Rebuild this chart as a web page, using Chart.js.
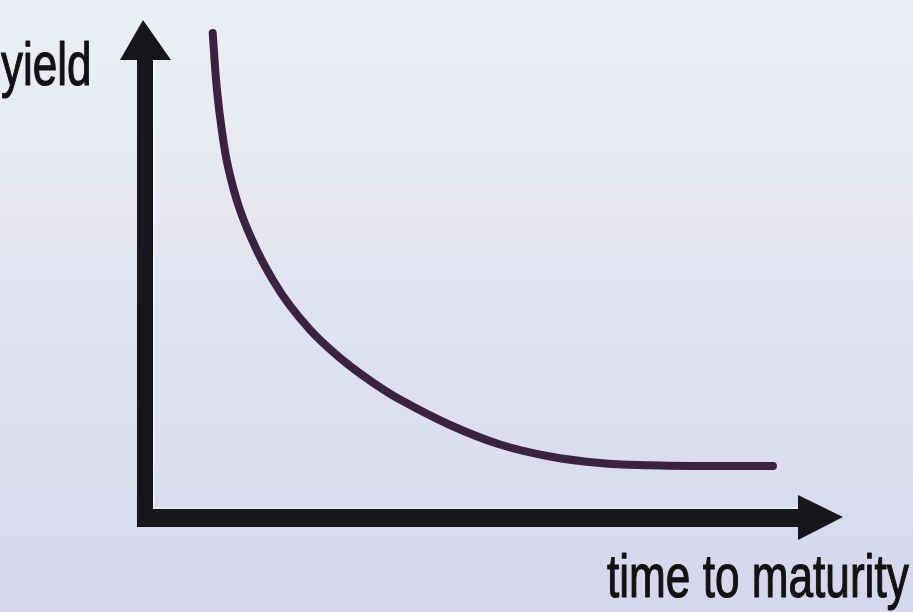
<!DOCTYPE html>
<html>
<head>
<meta charset="utf-8">
<script src="https://cdn.jsdelivr.net/npm/chart.js@4/dist/chart.umd.min.js"></script>
<style>
html,body{margin:0;padding:0;width:913px;height:612px;overflow:hidden;background:linear-gradient(180deg,#eceef5 0%,#e3e4f1 45%,#d6d6ec 100%);}
#wrap{position:absolute;left:0;top:0;width:913px;height:612px;}
</style>
</head>
<body>
<div id="wrap"><canvas id="c" width="913" height="612"></canvas></div>
<script>
// Data (arbitrary units: x 0..10, y 0..10)
const maturity = [0.967, 1.024, 1.096, 1.19, 1.357, 1.596, 1.833, 2.071, 2.357, 2.643, 2.929, 3.257, 3.643, 4.357, 5.071, 5.786, 6.50, 7.214, 7.929, 8.971];
const yieldVals = [9.739, 8.655, 7.799, 7.028, 6.185, 5.382, 4.765, 4.263, 3.781, 3.388, 3.052, 2.719, 2.378, 1.867, 1.476, 1.235, 1.104, 1.058, 1.044, 1.044];
const xTitle = 'time to maturity';
const yTitle = 'yield';

const points = maturity.map((x, i) => ({x: x, y: yieldVals[i]}));

const axesPlugin = {
  id: 'arrowAxes',
  beforeDatasetsDraw(chart) {
    const ctx = chart.ctx;
    const xs = chart.scales.x, ys = chart.scales.y;
    const ox = xs.getPixelForValue(0), oy = ys.getPixelForValue(0);
    const topY = ys.getPixelForValue(10), rightX = xs.getPixelForValue(10);
    ctx.save();
    ctx.fillStyle = '#15171b';
    // y shaft
    ctx.fillRect(ox - 8, topY + 38, 16, oy - topY - 38 + 9);
    // x shaft
    ctx.fillRect(ox - 8, oy - 9, rightX - 45 - (ox - 8), 18);
    // y arrowhead
    ctx.beginPath();
    ctx.moveTo(ox - 2, topY);
    ctx.lineTo(ox + 26, topY + 40);
    ctx.lineTo(ox - 25, topY + 40);
    ctx.closePath();
    ctx.fill();
    // x arrowhead
    ctx.beginPath();
    ctx.moveTo(rightX - 2, oy - 1);
    ctx.lineTo(rightX - 47, oy - 23);
    ctx.lineTo(rightX - 47, oy + 22);
    ctx.closePath();
    ctx.fill();
    // subtle highlight edges
    ctx.strokeStyle = 'rgba(255,255,255,0.55)';
    ctx.lineWidth = 1.5;
    ctx.beginPath();
    ctx.moveTo(ox + 9, topY + 40);
    ctx.lineTo(ox + 9, oy - 10);
    ctx.lineTo(rightX - 47, oy - 10);
    ctx.stroke();
    ctx.restore();
  },
  afterDraw(chart) {
    const ctx = chart.ctx;
    ctx.save();
    ctx.fillStyle = '#121214';
    ctx.strokeStyle = '#121214';
    ctx.lineWidth = 1.2;
    ctx.lineJoin = 'round';
    ctx.font = '62px "Liberation Sans", Arial, sans-serif';
    ctx.textBaseline = 'alphabetic';
    ctx.textAlign = 'left';
    ctx.save();
    ctx.translate(1, 85);
    ctx.scale(0.71, 1);
    ctx.fillText(yTitle, 0, 0);
    ctx.strokeText(yTitle, 0, 0);
    ctx.restore();
    ctx.save();
    ctx.translate(607, 597);
    ctx.scale(0.712, 1);
    ctx.fillText(xTitle, 0, 0);
    ctx.strokeText(xTitle, 0, 0);
    ctx.restore();
    ctx.restore();
  }
};

new Chart(document.getElementById('c'), {
  type: 'line',
  data: {
    datasets: [{
      data: points,
      borderColor: '#3a2240',
      borderWidth: 8,
      borderCapStyle: 'round',
      borderJoinStyle: 'round',
      pointRadius: 0,
      tension: 0.4,
      fill: false
    }]
  },
  options: {
    responsive: false,
    animation: false,
    events: [],
    layout: {padding: {left: 145, right: 68, top: 20, bottom: 94}},
    plugins: {legend: {display: false}, tooltip: {enabled: false}, title: {display: false}},
    scales: {
      x: {type: 'linear', min: 0, max: 10, display: false},
      y: {type: 'linear', min: 0, max: 10, display: false}
    }
  },
  plugins: [axesPlugin]
});
</script>
</body>
</html>
